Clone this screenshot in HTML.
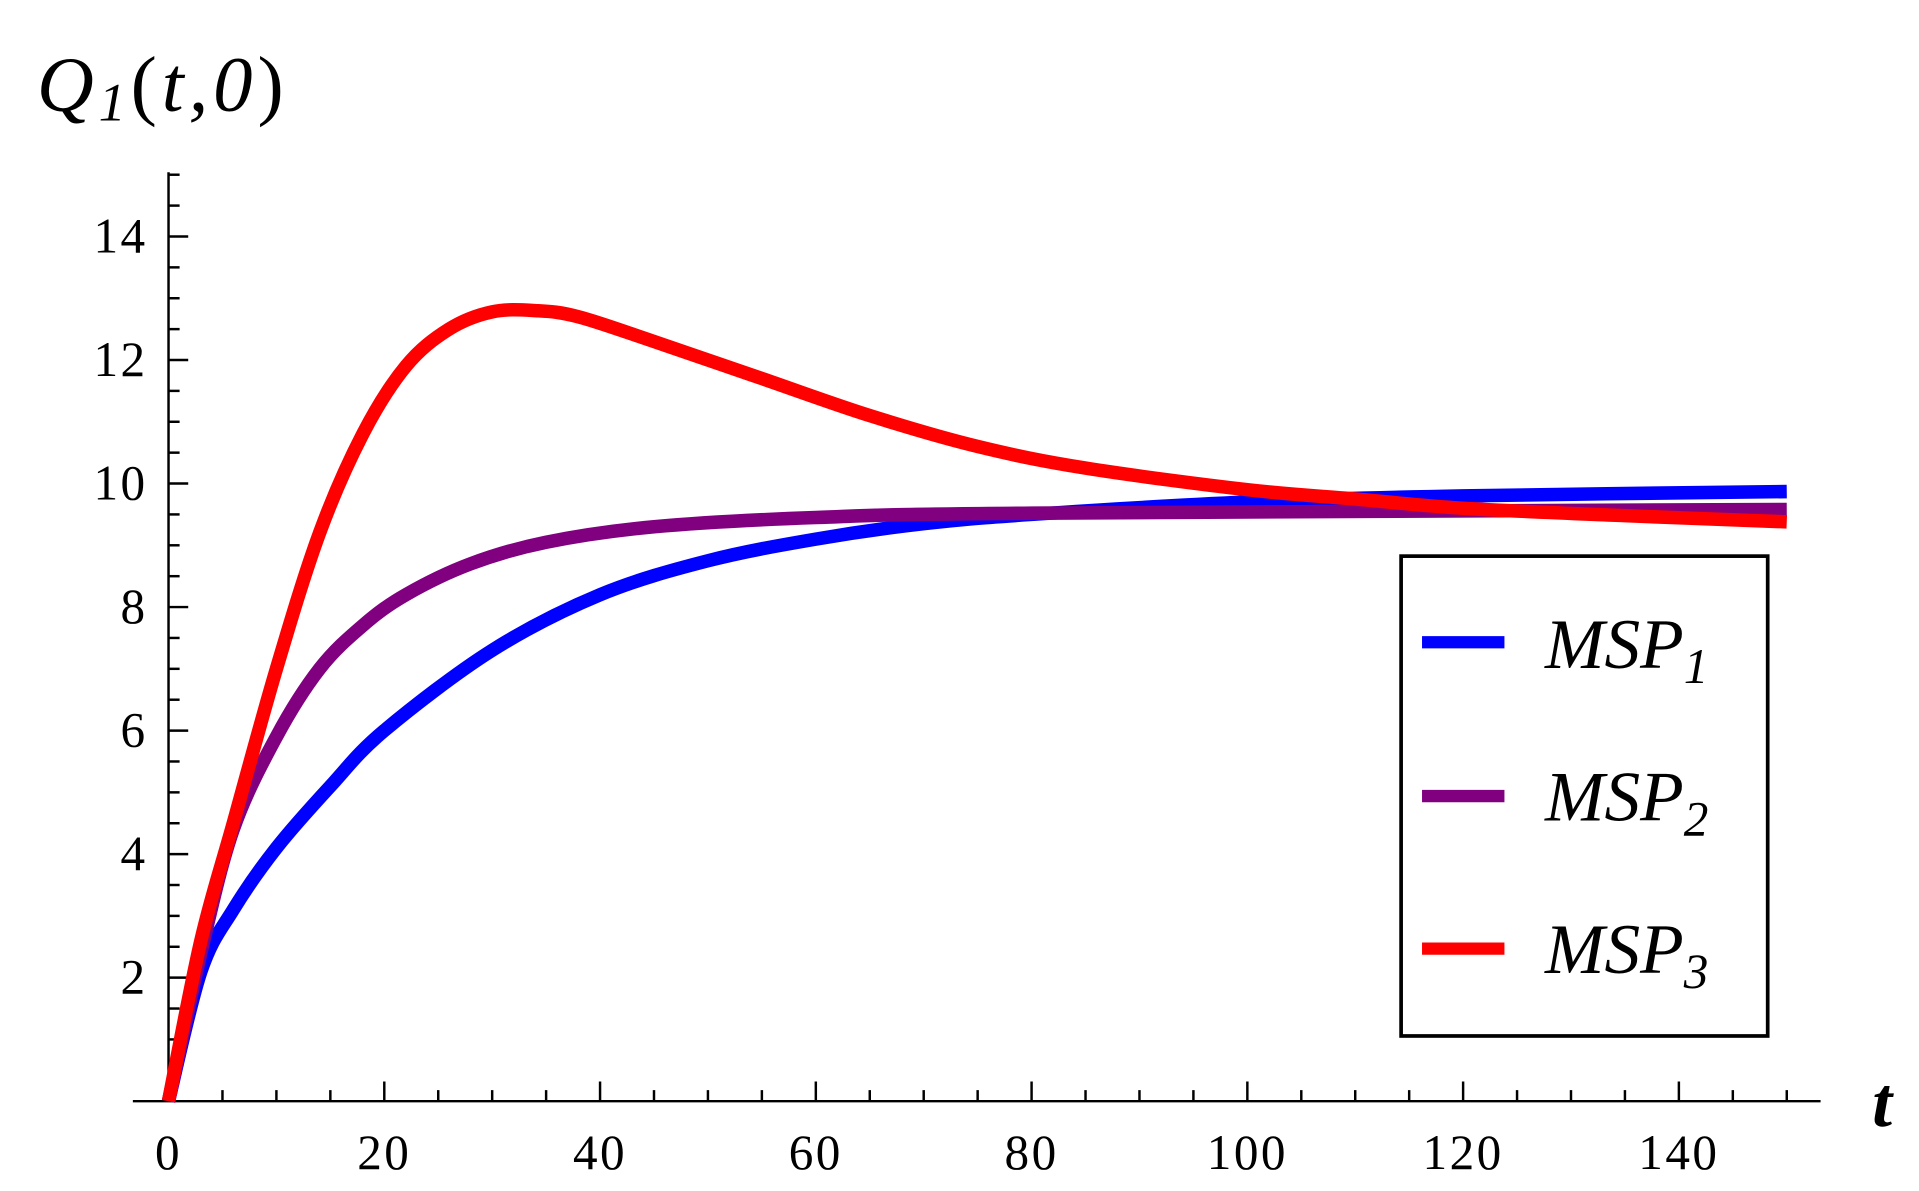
<!DOCTYPE html>
<html><head><meta charset="utf-8"><style>html,body{margin:0;padding:0;background:#fff;overflow:hidden}svg{display:block}</style></head>
<body>
<svg id="s" width="1919" height="1191" viewBox="0 0 1560 968" preserveAspectRatio="none" xmlns="http://www.w3.org/2000/svg" font-family="'Liberation Serif', serif">
<g id="ax" stroke="#000" stroke-width="2"></g>
<g id="lab" font-size="40" fill="#000" letter-spacing="2"></g>
<g id="cv" fill="none" stroke-width="11" stroke-linejoin="round"></g>
<text x="30" y="90" font-size="64" font-style="italic" letter-spacing="4">Q<tspan font-size="44" dy="8">1</tspan><tspan dy="-8" font-style="normal">(</tspan>t,0<tspan font-style="normal">)</tspan></text>
<text x="1522" y="915" font-size="58" font-style="italic" font-weight="bold">t</text>
<rect x="1139" y="452" width="298" height="390" fill="#fff" stroke="#000" stroke-width="3"/>
<line x1="1156" y1="522" x2="1223" y2="522" stroke="#0000ff" stroke-width="10"/>
<line x1="1156" y1="647" x2="1223" y2="647" stroke="#800080" stroke-width="10"/>
<line x1="1156" y1="771" x2="1223" y2="771" stroke="#ff0000" stroke-width="10"/>
<g font-size="58" font-style="italic">
<text x="1256" y="543">MSP<tspan font-size="40" dy="12">1</tspan></text>
<text x="1256" y="667">MSP<tspan font-size="40" dy="12">2</tspan></text>
<text x="1256" y="791">MSP<tspan font-size="40" dy="12">3</tspan></text>
</g>
</svg>
<script>
const X=t=>137+t*8.77, Y=v=>895-v*50.2;
const ns="http://www.w3.org/2000/svg";
function el(p,n,a,txt){const e=document.createElementNS(ns,n);for(const k in a)e.setAttribute(k,a[k]);if(txt!=null)e.textContent=txt;p.appendChild(e);return e;}
const ax=document.getElementById('ax'),lab=document.getElementById('lab'),cv=document.getElementById('cv');
el(ax,'line',{x1:108,y1:895,x2:1480,y2:895});
el(ax,'line',{x1:137,y1:895,x2:137,y2:140});
for(let v=0.5;v<=15.01;v+=0.5){const maj=Math.abs(v%2)<1e-6;el(ax,'line',{x1:137,y1:Y(v),x2:137+(maj?16:9),y2:Y(v)});if(maj)el(lab,'text',{x:120,y:Y(v)+13,'text-anchor':'end'},String(v));}
for(let t=5;t<=150;t+=5){const maj=t%20==0;el(ax,'line',{x1:X(t),y1:895,x2:X(t),y2:895-(maj?16:9)});}
for(let t=0;t<=140;t+=20)el(lab,'text',{x:X(t),y:950,'text-anchor':'middle'},String(t));
function path(pts){const P=pts.map(p=>[X(p[0]),Y(p[1])]);let d='M'+P[0];for(let i=0;i<P.length-1;i++){const p0=P[i-1]||P[i],p1=P[i],p2=P[i+1],p3=P[i+2]||p2;const c1=[p1[0]+(p2[0]-p0[0])/6,p1[1]+(p2[1]-p0[1])/6],c2=[p2[0]-(p3[0]-p1[0])/6,p2[1]-(p3[1]-p1[1])/6];d+='C'+c1+' '+c2+' '+p2;}return d;}
const blue=[[0,0],[3,2.1],[6,3.1],[10,4.1],[15,5.1],[20,6.0],[30,7.3],[40,8.2],[50,8.75],[60,9.1],[70,9.35],[80,9.5],[100,9.7],[120,9.8],[150,9.87]];
const purp=[[0,0],[3,2.4],[6,4.4],[10,5.9],[14,7.0],[18,7.7],[22,8.2],[28,8.7],[35,9.05],[45,9.3],[60,9.45],[80,9.52],[150,9.58]];
const red=[[0,0],[3,2.6],[6,4.5],[10,7],[14,9.2],[18,10.8],[22,11.9],[26,12.5],[30,12.78],[34,12.8],[38,12.7],[45,12.3],[55,11.7],[65,11.1],[75,10.6],[85,10.25],[100,9.9],[110,9.75],[120,9.6],[135,9.48],[150,9.38]];
el(cv,'path',{d:path(blue),stroke:'#0000ff'});
el(cv,'path',{d:path(purp),stroke:'#800080'});
el(cv,'path',{d:path(red),stroke:'#ff0000'});
</script>
</body></html>
